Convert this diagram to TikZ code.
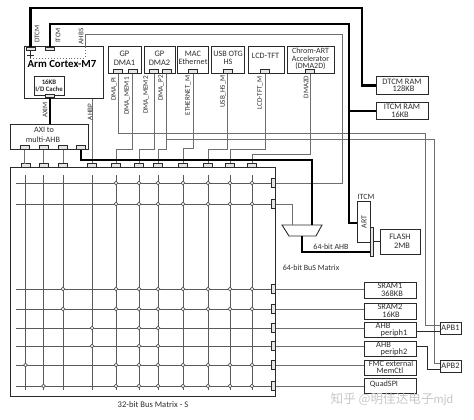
\documentclass[tikz,border=0pt]{standalone}
\usepackage{fontspec}
\setmainfont{Carlito}
\newfontfamily\cjkfont{Noto Sans CJK SC}
\definecolor{ink}{HTML}{2A2A2A}
\definecolor{wire}{HTML}{6E6E6E}
\definecolor{gridc}{HTML}{5A5A5A}
\definecolor{lbl}{HTML}{2E2E2E}
\tikzset{
  box/.style={draw=ink,line width=1pt,fill=white,inner sep=0pt,align=center,text=lbl,font=\fontsize{8.4}{7.4}\selectfont},
  port/.style={draw=ink,line width=0.9pt,fill=white!90!black,inner sep=0pt,minimum width=9pt,minimum height=3.2pt},
  vport/.style={draw=ink,line width=0.9pt,fill=white!90!black,inner sep=0pt,minimum width=3.2pt,minimum height=9.5pt},
  wireline/.style={draw=wire,line width=0.95pt},
  gridline/.style={draw=gridc,line width=0.95pt},
  heavy/.style={draw=black,line width=2.7pt},
  junc/.style={circle,draw=gridc,fill=white,line width=0.8pt,inner sep=0pt,minimum size=3.8pt},
  rot/.style={rotate=90,inner sep=0pt,text=lbl,font=\fontsize{7.1}{7.5}\selectfont},
  free/.style={inner sep=0pt,text=lbl,font=\fontsize{8}{8.4}\selectfont}
}
\begin{document}
\begin{tikzpicture}[x=1pt,y=-1pt]
\useasboundingbox (0,0) rectangle (474,420);
% bus matrix
\node[box,minimum width=265pt,minimum height=229pt] (matrix) at (142.5,282) {};
% top ports
\foreach \n/\x in {1/25.5,2/43.5,3/63,4/92,5/116,6/139,7/158,8/183,9/208,10/230,11/252}{
  \node[port] (m\n) at (\x,165.5) {};
  \draw[gridline] (\x,175) coordinate (vt\n) -- (\x,390) coordinate (vb\n);
}
% right ports and horizontals
\foreach \n/\y in {1/183,2/204,3/289,4/309,5/328,6/346,7/365,8/386}{
  \node[vport] (r\n) at (273.5,\y) {};
  \coordinate (hl\n) at (16,\y);
  \draw[gridline] (hl\n) -- (r\n.west);
}
% junctions
\foreach \r/\cols in {1/{5,6,7,8,9,10,11},2/{5,6,7,8,9,10,11},3/{3,5,6,7,8,9,10,11},4/{3,5,6,7,8,9,10,11},5/{4,6,7},6/{4,6,7},7/{1,5,6,7,8,9,10,11},8/{2,5,6,7,8,9,10,11}}{
  \foreach \c in \cols { \node[junc] (j\r-\c) at (m\c |- r\r) {}; }
}
% masters
\node[box,minimum width=79pt,minimum height=51pt] (cortex) at (63.5,72.5) {};
\node[inner sep=0pt,text=black,font=\fontsize{10.8}{11}\selectfont\bfseries] (cortextxt) at (62,64) {Arm Cortex-M7};
\node[box,minimum width=30pt,minimum height=18pt,font=\fontsize{6.8}{7.2}\selectfont\bfseries] (cache) at (49,86) {16KB\\I/D Cache};
\node[port] (pdtcm) at (30.5,49) {};
\node[port] (pitcm) at (50,49) {};
\node[port] (paxim) at (50,96) {};
\node[box,minimum width=78pt,minimum height=25pt] (axi) at (49.5,136.5) {};
\node[free,font=\fontsize{8.2}{8.4}\selectfont] (axit1) at (44,129.5) {AXI to};
\node[free,font=\fontsize{8.2}{8.4}\selectfont] (axit2) at (43,139.5) {multi-AHB};
\node[port] (a1) at (24.5,147.5) {};
\node[port] (a2) at (43.5,147.5) {};
\node[port] (a3) at (63,147.5) {};
\node[port] (a4) at (81,147.5) {};
\node[box,minimum width=33pt,minimum height=26.5pt] (dma1) at (124.5,60) {};
\node[free,align=center,font=\fontsize{8.4}{8.6}\selectfont] (dma1t) at (124.5,58) {GP\\DMA1};
\node[box,minimum width=31pt,minimum height=26.5pt] (dma2) at (159.5,60) {};
\node[free,align=center,font=\fontsize{8.4}{8.6}\selectfont] (dma2t) at (159.5,58) {GP\\DMA2};
\node[box,minimum width=30.5pt,minimum height=26.5pt] (mac) at (193,60) {};
\node[free,align=center,font=\fontsize{8.2}{8.6}\selectfont] (mact) at (193,58) {MAC\\Ethernet};
\node[box,minimum width=33pt,minimum height=26.5pt] (usb) at (228,60) {};
\node[free,align=center,font=\fontsize{8.2}{8.6}\selectfont] (usbt) at (228,58) {USB OTG\\HS};
\node[box,minimum width=36pt,minimum height=26.5pt] (lcd) at (266,60) {};
\node[free,font=\fontsize{8.2}{8.6}\selectfont] (lcdt) at (265.5,56) {LCD-TFT};
\node[box,minimum width=47pt,minimum height=27pt] (chrom) at (310.5,60.5) {};
\node[free,align=center,font=\fontsize{8}{7.6}\selectfont] (chromt) at (310.5,59) {Chrom-ART\\Accelerator\\(DMA2D)};
\node[port] (p1) at (118,71.5) {};
\node[port] (p2) at (132.5,71.5) {};
\node[port] (p3) at (154,71.5) {};
\node[port] (p4) at (166.5,71.5) {};
\node[port] (p5) at (193,71.5) {};
\node[port] (p6) at (227.5,71.5) {};
\node[port] (p7) at (265,71.5) {};
\node[port] (p8) at (310,71.5) {};
% slaves
\node[box,minimum width=52pt,minimum height=17pt] (dtcmram) at (402,85.5) {DTCM RAM\\\hspace*{3pt}128KB};
\node[box,minimum width=52pt,minimum height=16.5pt] (itcmram) at (402,111) {ITCM RAM\\16KB\hspace*{4pt}};
\node[box,minimum width=40pt,minimum height=25pt,font=\fontsize{8.4}{8.6}\selectfont] (flash) at (400,241.5) {FLASH\\\hspace*{4pt}2MB};
\node[box,minimum width=52pt,minimum height=16pt] (sram1) at (390,290) {SRAM1\\\hspace*{4pt}368KB};
\node[box,minimum width=52pt,minimum height=16pt] (sram2) at (390,311) {SRAM2\\\hspace*{2pt}16KB};
\node[box,minimum width=52pt,minimum height=15pt,font=\fontsize{8.4}{7}\selectfont] (per1) at (390,329.5) {AHB\hspace*{14pt}\\\hspace*{8pt}periph1};
\node[box,minimum width=52pt,minimum height=15pt,font=\fontsize{8.4}{7}\selectfont] (per2) at (390,348.5) {AHB\hspace*{13pt}\\\hspace*{8pt}periph2};
\node[box,minimum width=52pt,minimum height=15pt,font=\fontsize{8.2}{7}\selectfont] (fmc) at (390,367.5) {\hspace*{2pt}FMC external\\MemCtl};
\node[box,minimum width=52pt,minimum height=15pt] (qspi) at (390,385.5) {};
\node[free,font=\fontsize{8.2}{8.6}\selectfont] (qspit) at (384,384) {QuadSPI};
\node[box,minimum width=21pt,minimum height=12pt] (apb1) at (450.5,328) {APB1};
\node[box,minimum width=21pt,minimum height=12pt] (apb2) at (450.5,366) {APB2};
% ART box and flash arbiter
\node[box,minimum width=13pt,minimum height=41pt] (itcmbox) at (363.5,221.5) {};
\node[vport,minimum height=29pt,minimum width=3.5pt] (arb) at (371.8,241.5) {};
\node[free,font=\fontsize{8}{8}\selectfont] (itcmt) at (366,197) {ITCM};
\node[rot,font=\fontsize{7.8}{8}\selectfont] (artt) at (364,222) {ART};
\node[free] (ahbt) at (331,247) {64-bit AHB};
\node[free] (bm64) at (311,268) {64-bit BuS Matrix};
\node[free,font=\fontsize{8.6}{9}\selectfont] (bm32) at (153,405) {32-bit Bus Matrix - S};
\node[inner sep=0pt,text=black!22,font=\fontsize{12.6}{13}\selectfont] (wm) at (392,399) {{\cjkfont 知乎 @明佳达电子}mjd};
% mux
\coordinate (muxa) at (292,225);
\coordinate (muxb) at (312,225);
\coordinate (muxc) at (302,236);
\draw[line width=0.9pt,draw=ink,fill=white] (282,225) -- (322,225) -- (316,236) -- (289,236) -- cycle;
% thin connectors: long APB feeds
\coordinate (cornerA) at (425,133);
\coordinate (cornerB) at (434,139);
\coordinate (apb1in) at (440,325);
\coordinate (apb2in) at (440,363);
\draw[wireline] (p1.south) |- (cornerA) -- (cornerA |- apb1in) -- (apb1in);
\draw[wireline] (p4.south) |- (cornerB) -- (cornerB |- apb2in) -- (apb2in);
% thin connectors: masters to matrix
\draw[wireline] (p2.south) |- (m5.north |- 0,149) -- (m5.north);
\draw[wireline] (p3.south) |- (m6.north |- 0,149) -- (m6.north);
\draw[wireline] (p4.south) |- (m7.north |- 0,149) -- (m7.north);
\draw[wireline] (p5.south) |- (m8.north |- 0,148.5) -- (m8.north);
\draw[wireline] (p6.south) |- (m9.north |- 0,149) -- (m9.north);
\draw[wireline] (p7.south) |- (m10.north |- 0,149) -- (m10.north);
\draw[wireline] (p8.south) |- (m11.north |- 0,154.5) -- (m11.north);
\draw[wireline] (cortex.south -| m4) -- (m4.north);
\draw[wireline] (a1.south) |- (m1.north);
\draw[wireline] (a2.south) -- (a2.south |- m2.north);
\draw[wireline] (a3.south) -- (a3.south |- m3.north);
% AHBS
\coordinate (ahbsin) at (85,47);
\coordinate (ahbsr) at (342,34);
\draw[wireline] (r1.east) -| (ahbsr) -- (ahbsin |- ahbsr) -- (ahbsin);
\draw[wireline,dotted] (ahbsin) -- (85,58) -- (30,58);
\draw[draw=ink,line width=0.9pt] (pdtcm.south) -- (pdtcm.south |- 0,58) (27,55) -- (34,55);
% to mux
\draw[wireline] (r2.east) -| (muxa);
% slaves
\draw[wireline] (r3.east) -- (sram1.west |- r3.east);
\draw[wireline] (r4.east) -- (sram2.west |- r4.east);
\draw[wireline] (r5.east) -- (per1.west |- r5.east);
\draw[wireline] (r6.east) -- (per2.west |- r6.east);
\draw[wireline] (r7.east) -- (fmc.west |- r7.east);
\draw[wireline] (r8.east) -- (qspi.west |- r8.east);
\draw[draw=ink,line width=0.9pt] (per1.east |- 0,331) -- (apb1.west |- 0,331);
\coordinate (per2out) at (427,346);
\draw[draw=ink,line width=0.9pt] (per2.east |- per2out) -- (per2out) |- (apb2.west |- 0,369);
\draw[draw=ink,line width=0.9pt] (arb.east) -- (flash.west);
\draw[draw=ink,line width=0.9pt] (itcmbox.east |- 0,241) -- (arb.west |- 0,241);
% heavy buses
\coordinate (dtcmc) at (362,8);
\coordinate (itcmc) at (349,24);
\draw[heavy] (pdtcm.north) |- (dtcmc) |- (dtcmram.west);
\draw[heavy] (pitcm.north) |- (itcmc) |- (itcmbox.west |- 0,223);
\draw[heavy] (itcmc |- itcmram.west) -- (itcmram.west);
\draw[heavy] (paxim.south) -- (axi.north -| paxim);
\coordinate (a4c) at (312,160);
\draw[heavy] (a4.south) |- (a4c) -- (muxb);
\coordinate (ahbc) at (302,252);
\draw[heavy] (muxc) |- (arb.west |- ahbc);
% rotated labels
\node[rot] (l1) at (37,34) {DTCM};
\node[rot] (l2) at (58,35.5) {ITCM};
\node[rot] (l3) at (81,36.5) {AHBS};
\node[rot] (l4) at (45,110) {AXIM};
\node[rot] (l5) at (90,112) {AHBP};
\node[rot] (l6) at (114,89) {DMA\_PI};
\node[rot] (l7) at (127,96) {DMA\_MEM1};
\node[rot] (l8) at (146,95) {DMA\_MEM2};
\node[rot] (l9) at (161,88) {DMA\_P2};
\node[rot] (l10) at (188,95.5) {ETHERNET\_M};
\node[rot] (l11) at (223,91.5) {USB\_HS\_M};
\node[rot] (l12) at (260,93) {LCD-TFT\_M};
\node[rot] (l13) at (306,87) {DMA2D};
\end{tikzpicture}
\end{document}
